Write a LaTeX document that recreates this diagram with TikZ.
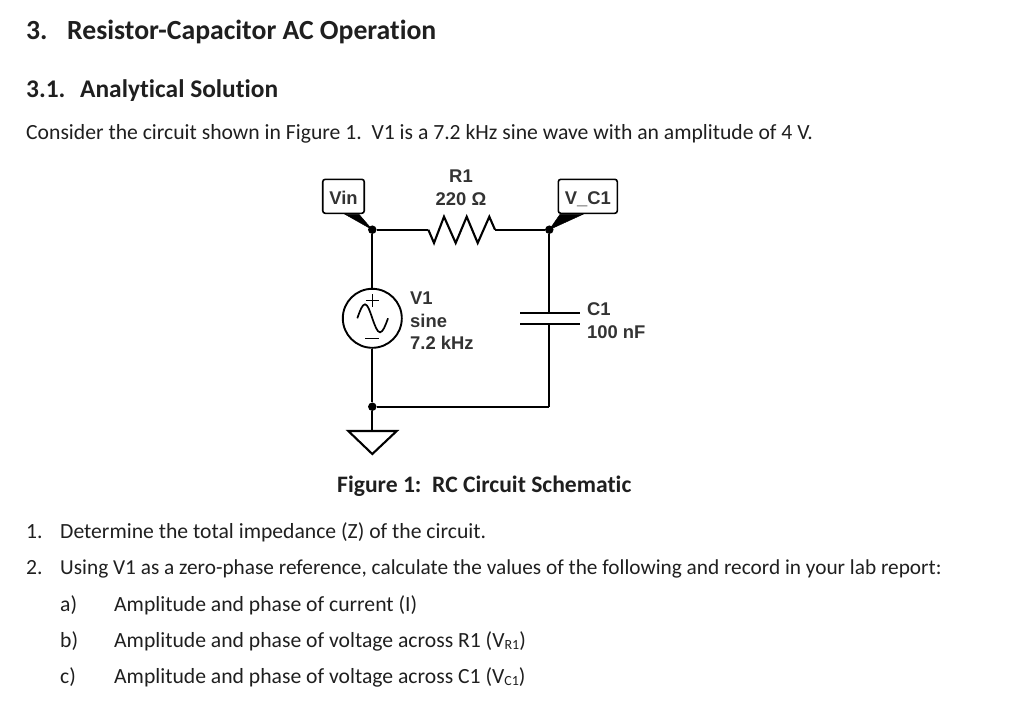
\documentclass[tikz,border=0pt]{standalone}
\usepackage{fontspec}
\setmainfont[Ligatures=NoCommon]{Carlito}
\newfontfamily\schemfont{Liberation Sans}
\usetikzlibrary{positioning}
\tikzset{
  txt/.style={anchor=base west,inner sep=0pt,text=black!88,font=\fontsize{21.65}{24}\selectfont},
  head/.style={txt,font=\fontsize{27.7}{30}\selectfont\bfseries},
  subhead/.style={txt,font=\fontsize{25.4}{28}\selectfont\bfseries},
  figcaption/.style={txt,font=\fontsize{23.6}{26}\selectfont\bfseries},
  lbl/.style={inner sep=0pt,align=left,text=black!80,font=\schemfont\bfseries\fontsize{18.4}{22.4}\selectfont},
  flag/.style={lbl,draw=black,rounded corners=2.5pt,line width=1.6pt,minimum height=34pt,anchor=center,text height=16pt,text depth=0pt},
  dot/.style={circle,fill=black,inner sep=0pt,minimum size=8.5pt},
  wire/.style={line width=2.1pt,line join=miter},
  tag/.style={fill=black,draw=black,line width=.4pt},
}
\newcommand{\subs}[1]{\raisebox{-2.5pt}{\fontsize{14}{14}\selectfont #1}}
\begin{document}
\begin{tikzpicture}[x=1pt,y=-1pt]
  \useasboundingbox (0,0) rectangle (1024,713);
  % text
  \node[head] (t3) at (26,39.5) {3.};
  \node[head] (t3name) at (67,39.5) {Resistor-Capacitor AC Operation};
  \node[subhead] (t31) at (26,97) {3.1.};
  \node[subhead] (t31name) at (80,97) {Analytical Solution};
  \node[txt] (intro) at (26,139) {Consider the circuit shown in Figure 1.\ \ V1 is a 7.2 kHz sine wave with an amplitude of 4 V.};
  \node[figcaption] (figcap) at (337,492.5) {Figure 1:\ \ RC Circuit Schematic};
  \node[txt] (n1) at (26,538.5) {1.};
  \node[txt] (q1) at (60,538.5) {Determine the total impedance (Z) of the circuit.};
  \node[txt] (n2) at (26,574.5) {2.};
  \node[txt,font=\fontsize{21.3}{24}\selectfont] (q2) at (60,574.5) {Using V1 as a zero-phase reference, calculate the values of the following and record in your lab report:};
  \node[txt] (na) at (60,611) {a)};
  \node[txt] (qa) at (114,611) {Amplitude and phase of current (I)};
  \node[txt] (nb) at (60,647) {b)};
  \node[txt] (qb) at (114,647) {Amplitude and phase of voltage across R1 (V\subs{R1})};
  \node[txt] (nc) at (60,683) {c)};
  \node[txt] (qc) at (114,683) {Amplitude and phase of voltage across C1 (V\subs{C1})};
  % circuit nodes
  \draw
    (372.3,229.7) node[dot] (nvin){}
    (549.3,229.7) node[dot] (nvc){}
    (372.3,406.7) node[dot] (ngnd){}
    (549.3,406.7) coordinate (ncorner)
    (428.3,229.7) coordinate (r1a)
    (495,229.7) coordinate (r1b)
    (549.3,313) coordinate (c1a)
    (549.3,323.7) coordinate (c1b)
    (372.3,431) coordinate (gndtop);
  \node[draw,circle,line width=1.9pt,minimum size=59pt,inner sep=0pt] (v1) at (372.3,318.3) {};
  \node[flag,minimum width=41.5pt] (vin) at (343.5,196.3) {Vin};
  \node[flag,minimum width=59pt] (vc1) at (587.8,196.3) {V\_C1};
  \node[lbl,align=center,anchor=base] (r1) at (461,205) {R1\\220 Ω};
  \node[lbl,anchor=base west] (v1lbl) at (410,349.5) {V1\\sine\\7.2 kHz};
  \node[lbl,anchor=base west] (c1) at (587,338) {C1\\100 nF};
  % wires
  \begin{scope}[wire]
    \draw (nvin) -- (r1a);
    \draw (r1a) -- (434,243) -- (444,216.7) -- (455.7,243) -- (466.7,216.7)
      -- (477.7,243) -- (489.3,216.7) -- (r1b);
    \draw (r1b) -- (nvc);
    \draw (nvin) -- (v1);
    \draw (v1) -- (ngnd);
    \draw (ngnd) -- (ncorner);
    \draw (ncorner) -- (c1b);
    \draw (c1a) -- (nvc);
    \draw (ngnd) -- (gndtop);
    \draw (520,313) -- (580,313);
    \draw (520,323.7) -- (580,323.7);
    \draw (348.3,431) -- (396.7,431) -- (372.3,454) -- cycle;
  \end{scope}
  % source symbol
  \draw[line width=1.7pt] (357.3,318.3) sin (365,304.3) cos (372.3,318.3) sin (380,332.3) cos (388,318.3);
  \draw[line width=1.4pt] (365.8,300.7) -- (378.8,300.7) (372.3,294.2) -- (372.3,307.2);
  \draw[line width=1.4pt] (365.3,338.3) -- (379.3,338.3);
  % flag tails
  \draw[tag] (345,214.3) -- (359,214.3) -- (nvin.center) -- cycle;
  \draw[tag] (560,214.3) -- (583,214.3) -- (nvc.center) -- cycle;
\end{tikzpicture}
\end{document}
